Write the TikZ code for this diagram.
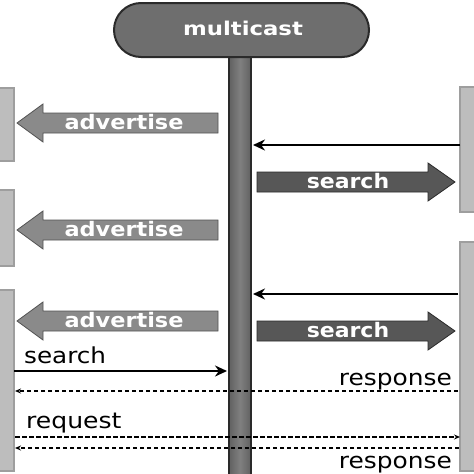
\documentclass[tikz,border=0pt]{standalone}
\usepackage{fontspec}
\setmainfont{DejaVu Sans}
\usepackage{graphicx}
\usetikzlibrary{arrows.meta}
\definecolor{boxgray}{HTML}{BDBDBD}
\definecolor{boxedge}{HTML}{9E9E9E}
\definecolor{advgray}{HTML}{8A8A8A}
\definecolor{srchgray}{HTML}{575757}
\definecolor{mcgray}{HTML}{6E6E6E}
\definecolor{darkedge}{HTML}{2A2A2A}
\tikzset{
  panel/.style={fill=boxgray, draw=boxedge, line width=1.2pt},
  whitelbl/.style={text=white, anchor=base, inner sep=0pt, font=\bfseries\fontsize{20}{20}\selectfont},
  blacklbl/.style={text=black, inner sep=0pt, font=\fontsize{22}{22}\selectfont},
  thinarrow/.style={line width=2.8pt, -{Stealth[length=12pt,width=11pt]}},
  dasharrow/.style={line width=1.2pt, dash pattern=on 4.5pt off 2.5pt, -{Stealth[length=6pt,width=5pt]}},
  advshape/.style={fill=advgray, draw=advgray!60!black, line width=0.8pt},
  srchshape/.style={fill=srchgray, draw=darkedge, line width=0.8pt},
}
\newcommand{\advarrow}[1]{%
  \path[advshape] (218,#1-10) -- (43,#1-10) -- (43,#1-19) -- (17,#1) -- (43,#1+19) -- (43,#1+10) -- (218,#1+10) -- cycle;}
\newcommand{\srcharrow}[1]{%
  \path[srchshape] (257,#1-10) -- (428,#1-10) -- (428,#1-19) -- (455,#1) -- (428,#1+19) -- (428,#1+10) -- (257,#1+10) -- cycle;}
\begin{document}
\begin{tikzpicture}[x=1pt,y=-1pt]
\useasboundingbox (0,0) rectangle (474,474);
\fill[white] (0,0) rectangle (474,474);
% side panels
\path[panel] (-5,88) rectangle (14,161);
\path[panel] (-5,190) rectangle (14,266);
\path[panel] (-5,290) rectangle (14,471);
\path[panel] (460,87) rectangle (480,212);
\path[panel] (460,242) rectangle (480,471);
% pole
\path[draw=darkedge, line width=1.6pt, left color=black!62, right color=black!62, middle color=black!50]
  (229,50) rectangle (251,476);
% multicast cap
\path[draw=darkedge, line width=2pt, fill=mcgray, rounded corners=27pt] (114,3) rectangle (369,57);
\node[whitelbl, font=\bfseries\fontsize{19}{19}\selectfont] (mc) at (243,35) {\scalebox{1.2}[1]{multicast}};
% advertise arrows
\advarrow{123}
\node[whitelbl] (adv1) at (124,129) {\scalebox{1.12}[1]{advertise}};
\advarrow{230}
\node[whitelbl] (adv2) at (124,236) {\scalebox{1.12}[1]{advertise}};
\advarrow{321}
\node[whitelbl] (adv3) at (124,327) {\scalebox{1.12}[1]{advertise}};
% search block arrows
\srcharrow{182}
\node[whitelbl] (srch1) at (348,188) {\scalebox{1.1}[1]{search}};
\srcharrow{331}
\node[whitelbl] (srch2) at (348,337) {\scalebox{1.1}[1]{search}};
% connector end points
\coordinate (r1) at (460,145);
\coordinate (p1) at (253,145);
\coordinate (r2) at (458,294);
\coordinate (p2) at (253,294);
\coordinate (l3) at (14,371);
\coordinate (p3) at (227,371);
\coordinate (ra) at (458,391);
\coordinate (la) at (15,391);
\coordinate (lb) at (15,437);
\coordinate (rb) at (460,437);
\coordinate (rc) at (459,448);
\coordinate (lc) at (15,448);
% thin arrows
\draw[thinarrow] (r1) -- (p1);
\draw[thinarrow] (r2) -- (p2);
\draw[thinarrow] (l3) -- (p3);
\node[blacklbl, anchor=base west] (lsearch) at (24,363) {\scalebox{1.12}[1]{search}};
% dashed arrows
\draw[dasharrow] (ra) -- (la);
\node[blacklbl, anchor=base east] (lresp1) at (452,385) {\scalebox{1.13}[1]{response}};
\draw[dasharrow] (lb) -- (rb);
\node[blacklbl, anchor=base west] (lreq) at (26,428) {\scalebox{1.14}[1]{request}};
\draw[dasharrow] (rc) -- (lc);
\node[blacklbl, anchor=base east] (lresp2) at (452,468) {\scalebox{1.13}[1]{response}};
\end{tikzpicture}
\end{document}
